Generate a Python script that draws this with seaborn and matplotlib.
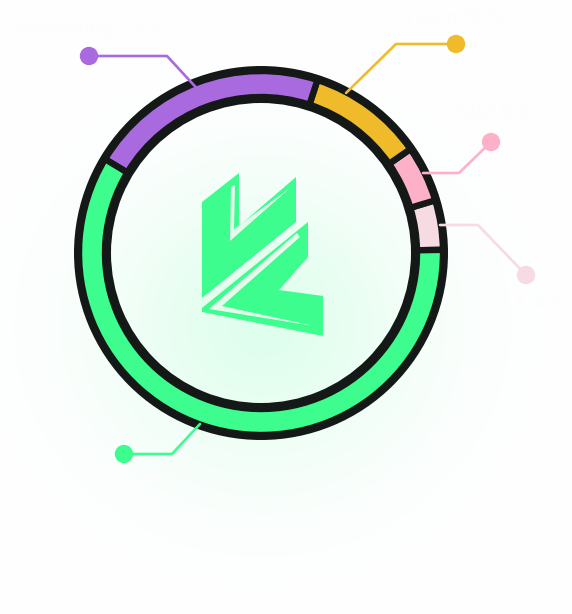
import numpy as np
import matplotlib
matplotlib.use("Agg")
import matplotlib.pyplot as plt
from matplotlib.patches import Wedge, Polygon
import seaborn as sns

# ---- data ----
categories = ["CEX", "MM", "Team", "Marketing", "LP"]
arc_values = [4.4, 5.0, 10.3, 21.4, 58.9]          # share of the ring, counter-clockwise from 3 o'clock
label_texts = ["CEX 5%", "MM 6%", "Team 10%", "Marketing 25%", "LP 54%"]
colors = ["#f6dbe2", "#fdb1c8", "#f0bb2b", "#a96ae0", "#3dfd8f"]

W, H = 572, 614
def Y(y):
    return H - y

sns.set_theme(style="white")
plt.rcParams["font.family"] = ["Inter", "DejaVu Sans"]

fig = plt.figure(figsize=(W / 100, H / 100), dpi=100)
ax = fig.add_axes([0, 0, 1, 1])

# ---- soft green glow background ----
xx, yy = np.meshgrid(np.arange(W), np.arange(H))
d2 = ((xx - 262) / 150.0) ** 2 + ((yy - 325) / 140.0) ** 2
alpha = 0.16 * np.exp(-d2)
green = np.array([61, 253, 143]) / 255.0
img = np.ones((H, W, 3)) * (1 - alpha[..., None]) + green * alpha[..., None]
ax.imshow(img, extent=(0, W, 0, H), origin="upper", zorder=0, interpolation="bilinear")

cx, cy = 261, Y(253)
dark = "#141816"

# black outer ring
ax.add_patch(Wedge((cx, cy), 187, 0, 360, width=37, facecolor=dark, edgecolor="none", zorder=2))

# coloured segments
wedges, _ = ax.pie(arc_values, colors=colors, startangle=1, counterclock=True,
                   radius=182, center=(cx, cy), frame=True,
                   wedgeprops=dict(width=26, edgecolor=dark, linewidth=4.6))
for w in wedges:
    w.set_zorder(3)

# ---- logo ----
logo_green = "#3dfd8f"
sliver = "#e4fbec"
upper = [(202, 202), (239, 173), (239, 226), (296, 177), (296, 222), (202, 298)]
upper_s = [(231, 187), (235, 185), (234, 229), (290, 188), (230, 241)]
lower = [(308, 222), (308, 257), (279, 290), (323, 296), (323, 336), (202, 312), (202, 308)]
lower_s = [(297, 233), (300, 237), (222, 306), (314, 326), (209, 309)]
for pts, c in [(upper, logo_green), (upper_s, sliver), (lower, logo_green), (lower_s, sliver)]:
    ax.add_patch(Polygon([(x, Y(y)) for x, y in pts], closed=True, facecolor=c,
                         edgecolor="none", zorder=4))

# ---- leader lines and dots ----
leaders = {
    "CEX": [(440, 225), (478, 225), (526, 275)],
    "MM": [(423, 173), (459, 173), (491, 142)],
    "Team": [(346, 93), (396, 44), (456, 44)],
    "Marketing": [(203, 95), (167, 56), (89, 56)],
    "LP": [(200, 424), (172, 454), (124, 454)],
}
dot_x, dot_y = [], []
for cat, col in zip(categories, colors):
    pts = leaders[cat]
    ax.plot([p[0] for p in pts], [Y(p[1]) for p in pts], color=col, lw=1.9,
            solid_capstyle="round", zorder=5)
    dot_x.append(pts[-1][0])
    dot_y.append(Y(pts[-1][1]))
sns.scatterplot(x=dot_x, y=dot_y, hue=categories, palette=colors, s=175,
                linewidth=0, legend=False, ax=ax, zorder=6)

# ---- labels (white text as in the original) ----
label_pos = {"CEX": (526, 301), "MM": (496, 113), "Team": (454, 18),
             "Marketing": (90, 31), "LP": (123, 482)}
for cat, txt in zip(categories, label_texts):
    x, y = label_pos[cat]
    ax.text(x, Y(y), txt, color="#fdfdfd", fontsize=15, ha="center", va="center",
            fontweight="medium", zorder=7)

ax.set_xlim(0, W)
ax.set_ylim(0, H)
ax.set_aspect("equal")
ax.axis("off")
fig.savefig("out.png", dpi=100)
